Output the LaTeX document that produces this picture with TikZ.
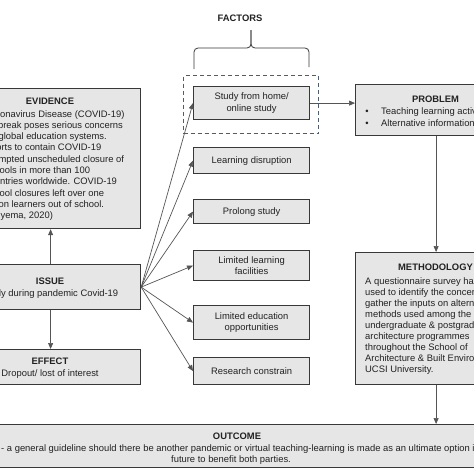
\documentclass[tikz,border=0pt]{standalone}
\usepackage{fontspec}
\setmainfont{Liberation Sans}
\usetikzlibrary{arrows.meta}
\definecolor{boxfill}{HTML}{E6E6E6}
\definecolor{boxline}{HTML}{383838}
\definecolor{txt}{HTML}{222222}
\definecolor{dashc}{HTML}{4E5E70}
\definecolor{arrc}{HTML}{555555}
\begin{document}
\begin{tikzpicture}[x=1pt,y=-1pt,
  box/.style={draw=boxline,fill=boxfill,line width=1.2pt,inner sep=0pt,anchor=north west,
    text=txt,font=\fontsize{9.4}{11.5}\selectfont,align=center},
  tx/.style={inner sep=0pt,text=txt,font=\fontsize{9.4}{11.3}\selectfont},
  hd/.style={inner sep=0pt,text=txt,font=\bfseries\fontsize{9.4}{11.3}\selectfont},
  arr/.style={draw=arrc,line width=0.7pt,-{Triangle[length=6pt,width=5pt]}},
  ]
\useasboundingbox (0,0) rectangle (474,474);
\fill[white] (0,0) rectangle (474,474);
\clip (0,0) rectangle (474,474);

% FACTORS header and brace
\node[hd,anchor=base] (fac) at (240,21.5) {FACTORS};
\draw[draw=boxline,line width=0.8pt,rounded corners=4pt] (194,69) -- (194,48) -- (251,48) -- (251,30);
\draw[draw=boxline,line width=0.8pt,rounded corners=4pt] (309,67) -- (309,48) -- (251,48) -- (251,30);

% dashed frame
\node[draw=dashc,dash pattern=on 4pt off 3pt,line width=1pt,inner sep=0pt,anchor=north west,
  minimum width=135pt,minimum height=58pt] (frame) at (183,75) {};

% left column
\node[box,minimum width=180pt,minimum height=140pt] (ev) at (-40,88) {};
\node[hd,anchor=base] (evh) at (50,104.5) {EVIDENCE};
\foreach \t [count=\i] in {Coronavirus Disease (COVID-19),outbreak poses serious concerns,
  for global education systems.,Efforts to contain COVID-19,prompted unscheduled closure of,
  schools in more than 100,countries worldwide. COVID-19,school closures left over one,
  billion learners out of school.,{(Onyema, 2020)}}
  \node[tx,anchor=base west] (evl\i) at (-15.2,{117+11.3*(\i-1)}) {\t};

\node[box,minimum width=180pt,minimum height=45pt] (iss) at (-40,264) {};
\node[hd,anchor=base] (issh) at (50,284.5) {ISSUE};
\node[tx,anchor=base] (issl) at (50,296.5) {Study during pandemic Covid-19};

\node[box,minimum width=180pt,minimum height=35pt] (eff) at (-40,349) {};
\node[hd,anchor=base] (effh) at (50,364.5) {EFFECT};
\node[tx,anchor=base] (effl) at (50,376.5) {Dropout/ lost of interest};

% factor boxes
\node[box,minimum width=116pt,minimum height=33pt] (f1) at (193,86) {Study from home/\\online study};
\node[box,minimum width=116pt,minimum height=26pt] (f2) at (193,147) {Learning disruption};
\node[box,minimum width=116pt,minimum height=24pt] (f3) at (193,199) {Prolong study};
\node[box,minimum width=116pt,minimum height=30pt] (f4) at (193,250) {Limited learning\\facilities};
\node[box,minimum width=116pt,minimum height=34pt] (f5) at (193,305) {Limited education\\opportunities};
\node[box,minimum width=116pt,minimum height=27pt] (f6) at (193,357) {Research constrain};

% right column
\node[box,minimum width=161pt,minimum height=51pt] (prob) at (355,84) {};
\node[hd,anchor=base] (probh) at (435.5,102.5) {PROBLEM};
\node[tx,anchor=base] (pb1) at (367,114.5) {\textbullet};
\node[tx,anchor=base west] (pt1) at (381,114.5) {Teaching learning activities};
\node[tx,anchor=base] (pb2) at (367,126.5) {\textbullet};
\node[tx,anchor=base west] (pt2) at (381,126.5) {Alternative information};

\node[box,minimum width=161pt,minimum height=132pt] (meth) at (355,252) {};
\node[hd,anchor=base] (methh) at (435.5,270.5) {METHODOLOGY};
\foreach \t [count=\i] in {A questionnaire survey has been,used to identify the concerns and,
  gather the inputs on alternative,methods used among the,undergraduate \& postgraduate,
  architecture programmes,throughout the School of,{Architecture \& Built Environment,},
  UCSI University.}
  \node[tx,anchor=base west] (ml\i) at (365,{284.5+11*(\i-1)}) {\t};

% outcome
\node[box,minimum width=520pt,minimum height=43pt] (out) at (-20,424) {};
\node[hd,anchor=base] (outh) at (237,439) {OUTCOME};
\node[tx,anchor=base west] (ol1) at (1,451.5) {- a general guideline should there be another pandemic or virtual teaching-learning is made as an ultimate option in the};
\node[tx,anchor=base] (ol2) at (231,462) {future to benefit both parties.};

% connectors
\draw[arr] (iss.north) -- (ev.south);
\draw[arr] (iss.south) -- (eff.north);
\foreach \f in {f1,f2,f3,f4,f5,f6}
  \draw[arr] (iss.east) -- (\f.west);
\draw[arr] (f1.east) -- (f1.east -| prob.west);
\draw[arr] (prob.south) -- (meth.north);
\draw[arr] (meth.south) -- (meth.south |- out.north);
\end{tikzpicture}
\end{document}
